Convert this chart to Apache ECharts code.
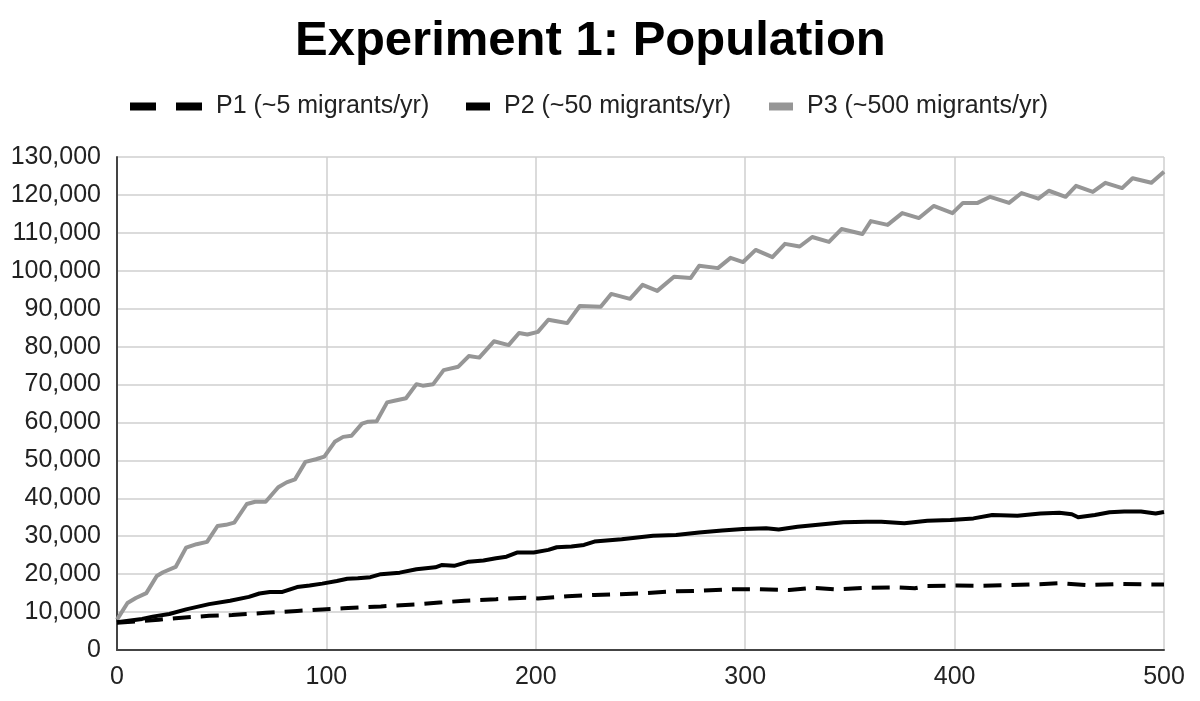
<!DOCTYPE html>
<html>
<head>
<meta charset="utf-8">
<script src="https://cdn.jsdelivr.net/npm/echarts@6/dist/echarts.min.js"></script>
<style>
html,body{margin:0;padding:0;background:#fff;}
#chart{width:1200px;height:701px;}
</style>
</head>
<body>
<div id="chart"></div>
<script>
const titleText = 'Experiment 1: Population';
const seriesNames = ['P1 (~5 migrants/yr)', 'P2 (~50 migrants/yr)', 'P3 (~500 migrants/yr)'];
const xTicks = [0, 100, 200, 300, 400, 500];
const yTicks = [0, 10000, 20000, 30000, 40000, 50000, 60000, 70000, 80000, 90000, 100000, 110000, 120000, 130000];

const p1Years = [0,15,20,28,44,55,60,71,86,98,108,126,143,154,166,181,195,201,215,228,249,267,278,292,307,321,332,343,358,372,381,387,401,412,425,438,450,463,478,492,500];
const p1Values = [7200,7800,8000,8400,9000,9200,9400,9800,10300,10700,11000,11500,12000,12500,13000,13400,13800,13600,14200,14500,14900,15500,15600,16000,16000,15800,16400,16000,16400,16500,16300,16900,17000,16900,17100,17300,17600,17100,17400,17300,17300];

const p2Years = [0,12,17,25,33,44,54,63,68,73,79,86,92,98,105,110,115,121,126,135,143,152,155,161,168,175,181,186,191,199,206,210,217,223,228,241,256,267,278,289,299,310,316,325,336,347,358,365,376,387,398,409,418,430,441,450,456,459,467,474,481,489,496,500];
const p2Values = [7300,8200,8800,9500,10700,12100,13000,14000,14900,15300,15300,16600,17000,17500,18200,18800,18900,19200,20000,20400,21300,21800,22400,22200,23300,23600,24200,24600,25700,25700,26400,27100,27300,27700,28600,29200,30100,30300,31000,31500,31900,32100,31800,32500,33100,33700,33800,33800,33400,34100,34300,34700,35600,35400,36000,36200,35800,35000,35600,36300,36500,36500,36000,36400];

const p3Years = [0,5,9,14,19,22,28,33,38,43,48,52,56,62,66,71,77,81,85,90,95,99,104,108,112,117,120,124,129,133,138,143,146,151,156,163,168,173,180,187,192,196,201,206,210,215,221,231,236,245,251,258,266,274,278,287,293,299,305,313,319,326,332,340,346,356,360,368,375,383,390,399,404,411,417,426,432,440,445,453,458,466,472,480,485,494,500];
const p3Values = [8000,12400,13700,15000,19500,20500,21900,27000,27900,28500,32700,33000,33600,38500,39100,39100,42900,44200,45000,49600,50300,51000,54900,56200,56500,59700,60200,60300,65300,65800,66400,70100,69700,70100,73800,74700,77500,77100,81400,80400,83600,83200,83900,87100,86700,86200,90700,90500,93900,92600,96300,94700,98400,98100,101300,100700,103400,102300,105500,103600,107100,106400,108900,107600,111000,109700,113100,112100,115200,113900,117100,115200,117900,117900,119500,117900,120500,119000,121100,119500,122400,120800,123200,121800,124400,123200,126100];

function zip(xs, ys) { return xs.map((x, i) => [x, ys[i]]); }

const FONT = '"Liberation Sans", Arial, sans-serif';
const chart = echarts.init(document.getElementById('chart'), null, {renderer: 'canvas'});

const legendText = {fontSize: 25, color: '#222', fontFamily: FONT, padding: [0, 0, 0, 9]};

chart.setOption({
  animation: false,
  backgroundColor: '#ffffff',
  title: {
    text: titleText,
    left: 295,
    top: 17,
    padding: 0,
    textStyle: {fontSize: 49, fontWeight: 'bold', color: '#000', fontFamily: FONT}
  },
  legend: [
    {
      data: [{name: seriesNames[0], icon: 'path://M0,0H26V8H0Z M46,0H72V8H46Z'}],
      left: 130, top: 94, padding: 0, itemWidth: 72, itemHeight: 8,
      itemStyle: {color: '#000'},
      textStyle: legendText
    },
    {
      data: [{name: seriesNames[1], icon: 'rect'}],
      left: 466, top: 94, padding: 0, itemWidth: 24, itemHeight: 8,
      itemStyle: {color: '#000'},
      textStyle: legendText
    },
    {
      data: [{name: seriesNames[2], icon: 'rect'}],
      left: 769, top: 94, padding: 0, itemWidth: 24, itemHeight: 8,
      itemStyle: {color: '#969696'},
      textStyle: legendText
    }
  ],
  grid: {left: 117, right: 36, top: 157, bottom: 51, containLabel: false},
  xAxis: {
    type: 'value',
    min: xTicks[0],
    max: xTicks[xTicks.length - 1],
    interval: 100,
    axisLine: {show: true, lineStyle: {color: '#444', width: 2}},
    axisTick: {show: false},
    axisLabel: {fontSize: 25, color: '#222', fontFamily: FONT, margin: 15},
    splitLine: {show: true, lineStyle: {color: '#cfcfcf', width: 1.5}}
  },
  yAxis: {
    type: 'value',
    min: yTicks[0],
    max: yTicks[yTicks.length - 1],
    interval: 10000,
    axisLine: {show: true, lineStyle: {color: '#444', width: 2}},
    axisTick: {show: false},
    axisLabel: {
      fontSize: 25, color: '#222', fontFamily: FONT, margin: 16,
      formatter: v => v.toLocaleString('en-US')
    },
    splitLine: {show: true, lineStyle: {color: '#cfcfcf', width: 1.5}}
  },
  series: [
    {
      name: seriesNames[2], type: 'line', symbol: 'none', showSymbol: false, z: 1,
      data: zip(p3Years, p3Values),
      lineStyle: {color: '#969696', width: 4, join: 'round'},
      itemStyle: {color: '#969696'}
    },
    {
      name: seriesNames[1], type: 'line', symbol: 'none', showSymbol: false, z: 2,
      data: zip(p2Years, p2Values),
      lineStyle: {color: '#000', width: 4, join: 'round'},
      itemStyle: {color: '#000'}
    },
    {
      name: seriesNames[0], type: 'line', symbol: 'none', showSymbol: false, z: 3,
      data: zip(p1Years, p1Values),
      lineStyle: {color: '#000', width: 4, type: [18, 10]},
      itemStyle: {color: '#000'}
    }
  ]
});
</script>
</body>
</html>
